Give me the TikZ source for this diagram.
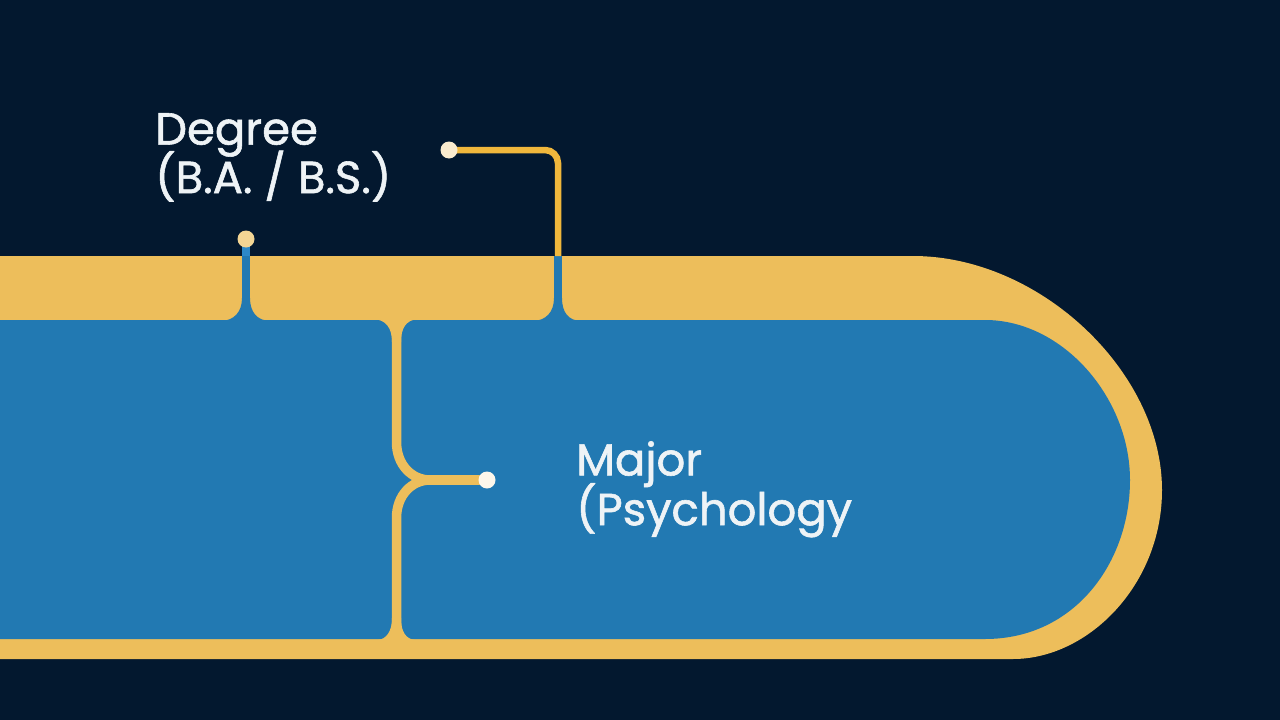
\documentclass[tikz,border=0pt]{standalone}
\usepackage{fontspec}
\setmainfont{Poppins}[FakeBold=1.3]
\usepackage{xcolor}
\usetikzlibrary{positioning,calc}
\definecolor{nightbg}{HTML}{03182F}
\definecolor{bandgold}{HTML}{EDBE5B}
\definecolor{fieldblue}{HTML}{2279B2}
\definecolor{wiregold}{HTML}{F0B73C}
\definecolor{stemblue}{HTML}{2C88C8}
\definecolor{labelwhite}{HTML}{EEF3F6}

\begin{document}
\begin{tikzpicture}[
    x=1pt, y=-1pt,
    dot/.style = {circle, minimum size=17pt, inner sep=0pt},
    bigtext/.style = {anchor=north west, inner sep=0pt, align=left, text=labelwhite,
      font=\fontsize{45}{50}\selectfont},
    goldwire/.style = {draw=bandgold, line width=9.5pt},
    thinwire/.style = {draw=wiregold, line width=6.5pt},
    bluewire/.style = {draw=fieldblue, line width=8pt}
  ]
  \useasboundingbox (0,0) rectangle (1280,720);
  \fill[nightbg] (0,0) rectangle (1280,720);

  % band and field
  \fill[bandgold] (0,256) -- (913,256) .. controls (1040,256) and (1162,372) .. (1162,490)
    .. controls (1162,585) and (1088,659) .. (1013,659) -- (0,659) -- cycle;
  \fill[fieldblue] (0,320) -- (985,320) .. controls (1063,320) and (1130,398) .. (1130,480)
    .. controls (1130,562) and (1075,639) .. (985,639) -- (0,639) -- cycle;

  % stems through the band
  \coordinate (stemleft) at (246,320);
  \coordinate (stemright) at (558,320);
  \coordinate (bandright) at (558,256);
  \coordinate (bandleft) at (246,256);
  \fill[fieldblue] (220,321) .. controls (234,321) and (242,312) .. (242,298) -- (250,298)
    .. controls (250,312) and (257,321) .. (271,321) -- cycle;
  \fill[fieldblue] (532,321) .. controls (546,321) and (554,312) .. (554,298) -- (562,298)
    .. controls (562,312) and (568,321) .. (582,321) -- cycle;

  % branch in the field
  \coordinate (forktop) at (396.5,319);
  \coordinate (forkbottom) at (396.5,640);
  \coordinate (forkjoin) at (430,480);
  \fill[bandgold] (374,319) .. controls (386,320) and (392,328) .. (392,342) -- (401,342)
    .. controls (401,328) and (406,320) .. (418,319) -- cycle;
  \fill[bandgold] (378,640) .. controls (386,639) and (392,632) .. (392,618) -- (401,618)
    .. controls (401,632) and (406,639) .. (415,640) -- cycle;

  % dots
  \path (246,239) coordinate (degreeat) (449,150) coordinate (linkat) (487,480) coordinate (majorat);
  \draw[bluewire] (stemleft) -- (bandleft);
  \draw[bluewire] (stemright) -- (bandright);
  \draw[draw=stemblue, line width=8pt] (bandleft) -- (degreeat);
  \draw[thinwire, rounded corners=13pt] (linkat) -| (bandright);
  \draw[goldwire] (forktop) -- (396.5,442) .. controls (396.5,465) and (412,480) .. (forkjoin);
  \draw[goldwire] (forkbottom) -- (396.5,518) .. controls (396.5,495) and (412,480) .. (forkjoin);
  \draw[goldwire] (forkjoin) -- (majorat);
  \node[dot, fill=white!35!bandgold] (dotdegree) at (degreeat) {};
  \node[dot, fill=white!70!bandgold] (dotlink) at (linkat) {};
  \node[dot, fill=white!88!bandgold] (dotmajor) at (majorat) {};

  \node[bigtext] (degree) at (155,113) {Degree\\[-7pt](B.A. / B.S.)};
  \node[bigtext] (major) at (576,441) {Major\\[-5pt](Psychology};
\end{tikzpicture}
\end{document}
